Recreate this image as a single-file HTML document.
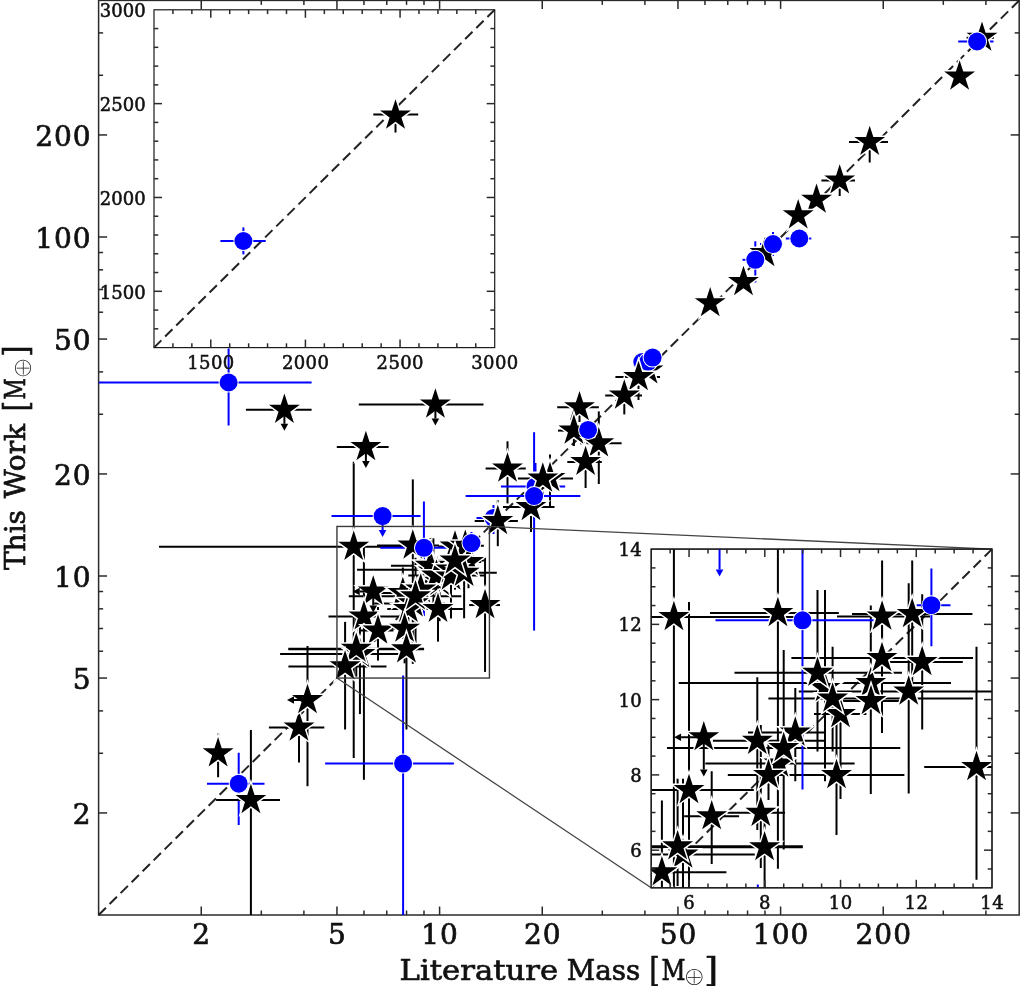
<!DOCTYPE html>
<html><head><meta charset="utf-8"><style>
html,body{margin:0;padding:0;background:#fff;}
svg{display:block;}
.tl{font-family:"DejaVu Serif","Liberation Serif",serif;fill:#111;stroke:#111;stroke-width:0.7px;}
.ts{stroke-width:0.55px;}
.op{font-family:"Liberation Sans","NanumGothic",sans-serif;fill:#111;}
.st{fill:#000;stroke:#fff;stroke-width:3;paint-order:stroke;stroke-linejoin:miter;}
.ci{fill:#00f;stroke:#fff;stroke-width:2;paint-order:stroke;}
</style></head><body>
<svg width="1020" height="986" viewBox="0 0 1020 986">
<rect x="98.6" y="0.4" width="920.6" height="914.6" fill="none" stroke="#2a2a2a" stroke-width="1.5"/>
<line x1="201.25" y1="915" x2="201.25" y2="906.5" stroke="#2a2a2a" stroke-width="1.5" />
<line x1="201.25" y1="0.4" x2="201.25" y2="8.9" stroke="#2a2a2a" stroke-width="1.5" />
<line x1="98.6" y1="812.95" x2="107.1" y2="812.95" stroke="#2a2a2a" stroke-width="1.5" />
<line x1="1019.2" y1="812.95" x2="1010.7" y2="812.95" stroke="#2a2a2a" stroke-width="1.5" />
<line x1="261.3" y1="915" x2="261.3" y2="910.5" stroke="#2a2a2a" stroke-width="1.5" />
<line x1="261.3" y1="0.4" x2="261.3" y2="4.9" stroke="#2a2a2a" stroke-width="1.5" />
<line x1="98.6" y1="753.26" x2="103.1" y2="753.26" stroke="#2a2a2a" stroke-width="1.5" />
<line x1="1019.2" y1="753.26" x2="1014.7" y2="753.26" stroke="#2a2a2a" stroke-width="1.5" />
<line x1="303.9" y1="915" x2="303.9" y2="910.5" stroke="#2a2a2a" stroke-width="1.5" />
<line x1="303.9" y1="0.4" x2="303.9" y2="4.9" stroke="#2a2a2a" stroke-width="1.5" />
<line x1="98.6" y1="710.9" x2="103.1" y2="710.9" stroke="#2a2a2a" stroke-width="1.5" />
<line x1="1019.2" y1="710.9" x2="1014.7" y2="710.9" stroke="#2a2a2a" stroke-width="1.5" />
<line x1="336.95" y1="915" x2="336.95" y2="906.5" stroke="#2a2a2a" stroke-width="1.5" />
<line x1="336.95" y1="0.4" x2="336.95" y2="8.9" stroke="#2a2a2a" stroke-width="1.5" />
<line x1="98.6" y1="678.05" x2="107.1" y2="678.05" stroke="#2a2a2a" stroke-width="1.5" />
<line x1="1019.2" y1="678.05" x2="1010.7" y2="678.05" stroke="#2a2a2a" stroke-width="1.5" />
<line x1="363.95" y1="915" x2="363.95" y2="910.5" stroke="#2a2a2a" stroke-width="1.5" />
<line x1="363.95" y1="0.4" x2="363.95" y2="4.9" stroke="#2a2a2a" stroke-width="1.5" />
<line x1="98.6" y1="651.21" x2="103.1" y2="651.21" stroke="#2a2a2a" stroke-width="1.5" />
<line x1="1019.2" y1="651.21" x2="1014.7" y2="651.21" stroke="#2a2a2a" stroke-width="1.5" />
<line x1="386.78" y1="915" x2="386.78" y2="910.5" stroke="#2a2a2a" stroke-width="1.5" />
<line x1="386.78" y1="0.4" x2="386.78" y2="4.9" stroke="#2a2a2a" stroke-width="1.5" />
<line x1="98.6" y1="628.51" x2="103.1" y2="628.51" stroke="#2a2a2a" stroke-width="1.5" />
<line x1="1019.2" y1="628.51" x2="1014.7" y2="628.51" stroke="#2a2a2a" stroke-width="1.5" />
<line x1="406.55" y1="915" x2="406.55" y2="910.5" stroke="#2a2a2a" stroke-width="1.5" />
<line x1="406.55" y1="0.4" x2="406.55" y2="4.9" stroke="#2a2a2a" stroke-width="1.5" />
<line x1="98.6" y1="608.85" x2="103.1" y2="608.85" stroke="#2a2a2a" stroke-width="1.5" />
<line x1="1019.2" y1="608.85" x2="1014.7" y2="608.85" stroke="#2a2a2a" stroke-width="1.5" />
<line x1="424" y1="915" x2="424" y2="910.5" stroke="#2a2a2a" stroke-width="1.5" />
<line x1="424" y1="0.4" x2="424" y2="4.9" stroke="#2a2a2a" stroke-width="1.5" />
<line x1="98.6" y1="591.51" x2="103.1" y2="591.51" stroke="#2a2a2a" stroke-width="1.5" />
<line x1="1019.2" y1="591.51" x2="1014.7" y2="591.51" stroke="#2a2a2a" stroke-width="1.5" />
<line x1="439.6" y1="915" x2="439.6" y2="906.5" stroke="#2a2a2a" stroke-width="1.5" />
<line x1="439.6" y1="0.4" x2="439.6" y2="8.9" stroke="#2a2a2a" stroke-width="1.5" />
<line x1="98.6" y1="576" x2="107.1" y2="576" stroke="#2a2a2a" stroke-width="1.5" />
<line x1="1019.2" y1="576" x2="1010.7" y2="576" stroke="#2a2a2a" stroke-width="1.5" />
<line x1="542.25" y1="915" x2="542.25" y2="906.5" stroke="#2a2a2a" stroke-width="1.5" />
<line x1="542.25" y1="0.4" x2="542.25" y2="8.9" stroke="#2a2a2a" stroke-width="1.5" />
<line x1="98.6" y1="473.95" x2="107.1" y2="473.95" stroke="#2a2a2a" stroke-width="1.5" />
<line x1="1019.2" y1="473.95" x2="1010.7" y2="473.95" stroke="#2a2a2a" stroke-width="1.5" />
<line x1="602.3" y1="915" x2="602.3" y2="910.5" stroke="#2a2a2a" stroke-width="1.5" />
<line x1="602.3" y1="0.4" x2="602.3" y2="4.9" stroke="#2a2a2a" stroke-width="1.5" />
<line x1="98.6" y1="414.26" x2="103.1" y2="414.26" stroke="#2a2a2a" stroke-width="1.5" />
<line x1="1019.2" y1="414.26" x2="1014.7" y2="414.26" stroke="#2a2a2a" stroke-width="1.5" />
<line x1="644.9" y1="915" x2="644.9" y2="910.5" stroke="#2a2a2a" stroke-width="1.5" />
<line x1="644.9" y1="0.4" x2="644.9" y2="4.9" stroke="#2a2a2a" stroke-width="1.5" />
<line x1="98.6" y1="371.9" x2="103.1" y2="371.9" stroke="#2a2a2a" stroke-width="1.5" />
<line x1="1019.2" y1="371.9" x2="1014.7" y2="371.9" stroke="#2a2a2a" stroke-width="1.5" />
<line x1="677.95" y1="915" x2="677.95" y2="906.5" stroke="#2a2a2a" stroke-width="1.5" />
<line x1="677.95" y1="0.4" x2="677.95" y2="8.9" stroke="#2a2a2a" stroke-width="1.5" />
<line x1="98.6" y1="339.05" x2="107.1" y2="339.05" stroke="#2a2a2a" stroke-width="1.5" />
<line x1="1019.2" y1="339.05" x2="1010.7" y2="339.05" stroke="#2a2a2a" stroke-width="1.5" />
<line x1="704.95" y1="915" x2="704.95" y2="910.5" stroke="#2a2a2a" stroke-width="1.5" />
<line x1="704.95" y1="0.4" x2="704.95" y2="4.9" stroke="#2a2a2a" stroke-width="1.5" />
<line x1="98.6" y1="312.21" x2="103.1" y2="312.21" stroke="#2a2a2a" stroke-width="1.5" />
<line x1="1019.2" y1="312.21" x2="1014.7" y2="312.21" stroke="#2a2a2a" stroke-width="1.5" />
<line x1="727.78" y1="915" x2="727.78" y2="910.5" stroke="#2a2a2a" stroke-width="1.5" />
<line x1="727.78" y1="0.4" x2="727.78" y2="4.9" stroke="#2a2a2a" stroke-width="1.5" />
<line x1="98.6" y1="289.51" x2="103.1" y2="289.51" stroke="#2a2a2a" stroke-width="1.5" />
<line x1="1019.2" y1="289.51" x2="1014.7" y2="289.51" stroke="#2a2a2a" stroke-width="1.5" />
<line x1="747.55" y1="915" x2="747.55" y2="910.5" stroke="#2a2a2a" stroke-width="1.5" />
<line x1="747.55" y1="0.4" x2="747.55" y2="4.9" stroke="#2a2a2a" stroke-width="1.5" />
<line x1="98.6" y1="269.85" x2="103.1" y2="269.85" stroke="#2a2a2a" stroke-width="1.5" />
<line x1="1019.2" y1="269.85" x2="1014.7" y2="269.85" stroke="#2a2a2a" stroke-width="1.5" />
<line x1="765" y1="915" x2="765" y2="910.5" stroke="#2a2a2a" stroke-width="1.5" />
<line x1="765" y1="0.4" x2="765" y2="4.9" stroke="#2a2a2a" stroke-width="1.5" />
<line x1="98.6" y1="252.51" x2="103.1" y2="252.51" stroke="#2a2a2a" stroke-width="1.5" />
<line x1="1019.2" y1="252.51" x2="1014.7" y2="252.51" stroke="#2a2a2a" stroke-width="1.5" />
<line x1="780.6" y1="915" x2="780.6" y2="906.5" stroke="#2a2a2a" stroke-width="1.5" />
<line x1="780.6" y1="0.4" x2="780.6" y2="8.9" stroke="#2a2a2a" stroke-width="1.5" />
<line x1="98.6" y1="237" x2="107.1" y2="237" stroke="#2a2a2a" stroke-width="1.5" />
<line x1="1019.2" y1="237" x2="1010.7" y2="237" stroke="#2a2a2a" stroke-width="1.5" />
<line x1="883.25" y1="915" x2="883.25" y2="906.5" stroke="#2a2a2a" stroke-width="1.5" />
<line x1="883.25" y1="0.4" x2="883.25" y2="8.9" stroke="#2a2a2a" stroke-width="1.5" />
<line x1="98.6" y1="134.95" x2="107.1" y2="134.95" stroke="#2a2a2a" stroke-width="1.5" />
<line x1="1019.2" y1="134.95" x2="1010.7" y2="134.95" stroke="#2a2a2a" stroke-width="1.5" />
<line x1="943.3" y1="915" x2="943.3" y2="910.5" stroke="#2a2a2a" stroke-width="1.5" />
<line x1="943.3" y1="0.4" x2="943.3" y2="4.9" stroke="#2a2a2a" stroke-width="1.5" />
<line x1="98.6" y1="75.26" x2="103.1" y2="75.26" stroke="#2a2a2a" stroke-width="1.5" />
<line x1="1019.2" y1="75.26" x2="1014.7" y2="75.26" stroke="#2a2a2a" stroke-width="1.5" />
<line x1="985.9" y1="915" x2="985.9" y2="910.5" stroke="#2a2a2a" stroke-width="1.5" />
<line x1="985.9" y1="0.4" x2="985.9" y2="4.9" stroke="#2a2a2a" stroke-width="1.5" />
<line x1="98.6" y1="32.9" x2="103.1" y2="32.9" stroke="#2a2a2a" stroke-width="1.5" />
<line x1="1019.2" y1="32.9" x2="1014.7" y2="32.9" stroke="#2a2a2a" stroke-width="1.5" />
<defs><clipPath id="cm"><rect x="98.6" y="0.4" width="920.6" height="914.6"/></clipPath>
<clipPath id="ci2"><rect x="651.2" y="549.1" width="340.8" height="338.7"/></clipPath></defs>
<line x1="98.6" y1="915" x2="1019.2" y2="0.4" stroke="#222" stroke-width="2" stroke-dasharray="10.3 5.21"/>
<g clip-path="url(#cm)">
<line x1="159" y1="546.78" x2="420.18" y2="546.78" stroke="#000" stroke-width="2" />
<line x1="353.72" y1="757.9" x2="353.72" y2="461.8" stroke="#000" stroke-width="2" />
<line x1="377" y1="545.5" x2="438.92" y2="545.5" stroke="#000" stroke-width="2" />
<line x1="412.82" y1="663.89" x2="412.82" y2="479.4" stroke="#000" stroke-width="2" />
<line x1="438.21" y1="546.62" x2="471.01" y2="546.62" stroke="#000" stroke-width="2" />
<line x1="455.02" y1="561.26" x2="455.02" y2="529.68" stroke="#000" stroke-width="2" />
<line x1="444.02" y1="545.82" x2="483.85" y2="545.82" stroke="#000" stroke-width="2" />
<line x1="465.27" y1="576.14" x2="465.27" y2="529.68" stroke="#000" stroke-width="2" />
<line x1="456.64" y1="561.97" x2="481.04" y2="561.97" stroke="#000" stroke-width="2" />
<line x1="468.52" y1="588.22" x2="468.52" y2="539.67" stroke="#000" stroke-width="2" />
<line x1="433.4" y1="611.97" x2="433.4" y2="538.36" stroke="#000" stroke-width="2" />
<line x1="390.95" y1="565.86" x2="461.88" y2="565.86" stroke="#000" stroke-width="2" />
<line x1="430.31" y1="597.88" x2="430.31" y2="538.36" stroke="#000" stroke-width="2" />
<line x1="428.84" y1="581.73" x2="449.39" y2="581.73" stroke="#000" stroke-width="2" />
<line x1="439.59" y1="621.14" x2="439.59" y2="578.11" stroke="#000" stroke-width="2" />
<line x1="408.3" y1="575.56" x2="484.02" y2="575.56" stroke="#000" stroke-width="2" />
<line x1="436.46" y1="597.88" x2="436.46" y2="556.66" stroke="#000" stroke-width="2" />
<line x1="357.03" y1="569.63" x2="477.51" y2="569.63" stroke="#000" stroke-width="2" />
<line x1="450.99" y1="618.45" x2="450.99" y2="543.16" stroke="#000" stroke-width="2" />
<line x1="439.39" y1="576.54" x2="462.88" y2="576.54" stroke="#000" stroke-width="2" />
<line x1="422.31" y1="572.85" x2="496.8" y2="572.85" stroke="#000" stroke-width="2" />
<line x1="464.11" y1="618.29" x2="464.11" y2="536.34" stroke="#000" stroke-width="2" />
<line x1="378.72" y1="593.06" x2="433.76" y2="593.06" stroke="#000" stroke-width="2" />
<line x1="402.84" y1="638.61" x2="402.84" y2="567.48" stroke="#000" stroke-width="2" />
<line x1="398.1" y1="589.45" x2="433.15" y2="589.45" stroke="#000" stroke-width="2" />
<line x1="420.76" y1="611.97" x2="420.76" y2="571.48" stroke="#000" stroke-width="2" />
<line x1="374.17" y1="603.38" x2="445" y2="603.38" stroke="#000" stroke-width="2" />
<line x1="387.26" y1="608.9" x2="462.41" y2="608.9" stroke="#000" stroke-width="2" />
<line x1="408.35" y1="621.67" x2="408.35" y2="592.7" stroke="#000" stroke-width="2" />
<line x1="348.82" y1="596.25" x2="461.3" y2="596.25" stroke="#000" stroke-width="2" />
<line x1="415.52" y1="650.71" x2="415.52" y2="557.76" stroke="#000" stroke-width="2" />
<line x1="418.39" y1="608.9" x2="462.68" y2="608.9" stroke="#000" stroke-width="2" />
<line x1="438.01" y1="641.64" x2="438.01" y2="584.19" stroke="#000" stroke-width="2" />
<line x1="469.16" y1="605.04" x2="500" y2="605.04" stroke="#000" stroke-width="2" />
<line x1="485.04" y1="671.92" x2="485.04" y2="556.66" stroke="#000" stroke-width="2" />
<line x1="328.5" y1="616.43" x2="401.08" y2="616.43" stroke="#000" stroke-width="2" />
<line x1="363.91" y1="779.8" x2="363.91" y2="542.04" stroke="#000" stroke-width="2" />
<line x1="360.74" y1="630.58" x2="393.42" y2="630.58" stroke="#000" stroke-width="2" />
<line x1="378.01" y1="660.58" x2="378.01" y2="607.05" stroke="#000" stroke-width="2" />
<line x1="387.04" y1="628.66" x2="416.11" y2="628.66" stroke="#000" stroke-width="2" />
<line x1="404.59" y1="663.32" x2="404.59" y2="586.27" stroke="#000" stroke-width="2" />
<line x1="280.1" y1="654.06" x2="401.58" y2="654.06" stroke="#000" stroke-width="2" />
<line x1="359.94" y1="714.1" x2="359.94" y2="610.77" stroke="#000" stroke-width="2" />
<line x1="288.4" y1="648.71" x2="424.05" y2="648.71" stroke="#000" stroke-width="2" />
<line x1="356.28" y1="676.65" x2="356.28" y2="610.77" stroke="#000" stroke-width="2" />
<line x1="288.4" y1="649.29" x2="424.05" y2="649.29" stroke="#000" stroke-width="2" />
<line x1="406.46" y1="729.5" x2="406.46" y2="628.21" stroke="#000" stroke-width="2" />
<line x1="288.4" y1="666.4" x2="386.48" y2="666.4" stroke="#000" stroke-width="2" />
<line x1="345.09" y1="729.5" x2="345.09" y2="621.88" stroke="#000" stroke-width="2" />
<line x1="419.02" y1="560.55" x2="484.02" y2="560.55" stroke="#000" stroke-width="2" />
<line x1="454.99" y1="589.67" x2="454.99" y2="541.42" stroke="#000" stroke-width="2" />
<line x1="380.25" y1="547.84" x2="451.96" y2="547.84" stroke="#00f" stroke-width="2" />
<line x1="423.92" y1="616.12" x2="423.92" y2="501.5" stroke="#00f" stroke-width="2" />
<line x1="466.74" y1="543.04" x2="477.36" y2="543.04" stroke="#00f" stroke-width="2" />
<line x1="471.45" y1="556.49" x2="471.45" y2="531.96" stroke="#00f" stroke-width="2" />
<line x1="966.6" y1="37.7" x2="994" y2="37.7" stroke="#000" stroke-width="2" />
<line x1="958.2" y1="41.5" x2="993.5" y2="41.5" stroke="#00f" stroke-width="2" />
<line x1="849" y1="141.9" x2="888" y2="141.9" stroke="#000" stroke-width="2" />
<line x1="869.7" y1="162.5" x2="869.7" y2="128" stroke="#000" stroke-width="2" />
<line x1="821.4" y1="180.4" x2="855" y2="180.4" stroke="#000" stroke-width="2" />
<line x1="839.7" y1="196" x2="839.7" y2="168" stroke="#000" stroke-width="2" />
<line x1="785.8" y1="238.5" x2="811.3" y2="238.5" stroke="#00f" stroke-width="2" />
<line x1="760" y1="244.1" x2="783" y2="244.1" stroke="#00f" stroke-width="2" />
<line x1="773" y1="256" x2="773" y2="232" stroke="#00f" stroke-width="2" />
<line x1="742.5" y1="259.8" x2="768" y2="259.8" stroke="#00f" stroke-width="2" />
<line x1="755.3" y1="282.5" x2="755.3" y2="241.3" stroke="#00f" stroke-width="2" />
<line x1="615.4" y1="377" x2="660" y2="377" stroke="#000" stroke-width="2" />
<line x1="638.5" y1="400" x2="638.5" y2="362" stroke="#000" stroke-width="2" />
<line x1="605.2" y1="395.6" x2="642" y2="395.6" stroke="#000" stroke-width="2" />
<line x1="624.3" y1="414.4" x2="624.3" y2="380" stroke="#000" stroke-width="2" />
<line x1="557.2" y1="407.2" x2="598.8" y2="407.2" stroke="#000" stroke-width="2" />
<line x1="579.5" y1="422" x2="579.5" y2="392" stroke="#000" stroke-width="2" />
<line x1="558" y1="430.6" x2="590" y2="430.6" stroke="#000" stroke-width="2" />
<line x1="573.9" y1="446" x2="573.9" y2="415" stroke="#000" stroke-width="2" />
<line x1="580" y1="443.3" x2="621.6" y2="443.3" stroke="#000" stroke-width="2" />
<line x1="598.8" y1="484" x2="598.8" y2="411.4" stroke="#000" stroke-width="2" />
<line x1="567.3" y1="461.9" x2="601.8" y2="461.9" stroke="#000" stroke-width="2" />
<line x1="585.6" y1="488" x2="585.6" y2="446" stroke="#000" stroke-width="2" />
<line x1="485.6" y1="468.5" x2="525.8" y2="468.5" stroke="#000" stroke-width="2" />
<line x1="507.5" y1="503.4" x2="507.5" y2="441.3" stroke="#000" stroke-width="2" />
<line x1="500.9" y1="486.4" x2="565.2" y2="486.4" stroke="#00f" stroke-width="2" />
<line x1="535.5" y1="505" x2="535.5" y2="463" stroke="#00f" stroke-width="2" />
<line x1="550" y1="507" x2="550" y2="454.5" stroke="#000" stroke-width="2" />
<line x1="517.9" y1="478.5" x2="573" y2="478.5" stroke="#000" stroke-width="2" />
<line x1="542.8" y1="496" x2="542.8" y2="465" stroke="#000" stroke-width="2" />
<line x1="503" y1="507" x2="554.5" y2="507" stroke="#000" stroke-width="2" />
<line x1="531" y1="532" x2="531" y2="495" stroke="#000" stroke-width="2" />
<line x1="476.5" y1="518" x2="512" y2="518" stroke="#00f" stroke-width="2" />
<line x1="493.5" y1="534" x2="493.5" y2="505" stroke="#00f" stroke-width="2" />
<line x1="474.7" y1="521" x2="517.9" y2="521" stroke="#000" stroke-width="2" />
<line x1="497.8" y1="546.2" x2="497.8" y2="500.3" stroke="#000" stroke-width="2" />
<line x1="465.6" y1="496.1" x2="580.4" y2="496.1" stroke="#00f" stroke-width="2" />
<line x1="534.1" y1="630.6" x2="534.1" y2="432.2" stroke="#00f" stroke-width="2" />
<line x1="98.6" y1="382.5" x2="311.6" y2="382.5" stroke="#00f" stroke-width="2" />
<line x1="228.6" y1="425.6" x2="228.6" y2="348.4" stroke="#00f" stroke-width="2" />
<line x1="245.9" y1="409.8" x2="311.6" y2="409.8" stroke="#000" stroke-width="2" />
<line x1="358.8" y1="404.6" x2="483.5" y2="404.6" stroke="#000" stroke-width="2" />
<line x1="336.8" y1="447" x2="388.6" y2="447" stroke="#000" stroke-width="2" />
<line x1="331.5" y1="516.1" x2="420.6" y2="516.1" stroke="#00f" stroke-width="2" />
<line x1="268.9" y1="727.5" x2="324.3" y2="727.5" stroke="#000" stroke-width="2" />
<line x1="299" y1="762.6" x2="299" y2="712" stroke="#000" stroke-width="2" />
<line x1="307.5" y1="786.2" x2="307.5" y2="646" stroke="#000" stroke-width="2" />
<line x1="325.1" y1="763.6" x2="453.9" y2="763.6" stroke="#00f" stroke-width="2" />
<line x1="403.1" y1="915" x2="403.1" y2="675.5" stroke="#00f" stroke-width="2" />
<line x1="218.1" y1="777.2" x2="218.1" y2="733.4" stroke="#000" stroke-width="2" />
<line x1="207" y1="783.7" x2="264.5" y2="783.7" stroke="#00f" stroke-width="2" />
<line x1="238.7" y1="824.9" x2="238.7" y2="752.8" stroke="#00f" stroke-width="2" />
<line x1="216.1" y1="800" x2="280" y2="800" stroke="#000" stroke-width="2" />
<line x1="250.9" y1="915" x2="250.9" y2="730.1" stroke="#000" stroke-width="2" />
<path d="M353.72,530.53 L357.37,541.75 L369.17,541.75 L359.62,548.69 L363.27,559.92 L353.72,552.98 L344.17,559.92 L347.81,548.69 L338.26,541.75 L350.07,541.75Z" class="st"/>
<path d="M412.82,529.25 L416.47,540.48 L428.28,540.48 L418.73,547.42 L422.37,558.64 L412.82,551.71 L403.27,558.64 L406.92,547.42 L397.37,540.48 L409.17,540.48Z" class="st"/>
<path d="M455.02,530.37 L458.67,541.59 L470.48,541.59 L460.93,548.53 L464.58,559.76 L455.02,552.82 L445.47,559.76 L449.12,548.53 L439.57,541.59 L451.38,541.59Z" class="st"/>
<path d="M465.27,529.57 L468.92,540.79 L480.72,540.79 L471.17,547.73 L474.82,558.96 L465.27,552.02 L455.72,558.96 L459.37,547.73 L449.81,540.79 L461.62,540.79Z" class="st"/>
<path d="M468.52,545.72 L472.17,556.95 L483.98,556.95 L474.43,563.89 L478.07,575.11 L468.52,568.18 L458.97,575.11 L462.62,563.89 L453.07,556.95 L464.87,556.95Z" class="st"/>
<path d="M433.4,555.27 L437.05,566.5 L448.85,566.5 L439.3,573.44 L442.95,584.66 L433.4,577.73 L423.85,584.66 L427.49,573.44 L417.94,566.5 L429.75,566.5Z" class="st"/>
<path d="M430.31,549.61 L433.95,560.84 L445.76,560.84 L436.21,567.78 L439.86,579.01 L430.31,572.07 L420.75,579.01 L424.4,567.78 L414.85,560.84 L426.66,560.84Z" class="st"/>
<path d="M439.59,565.48 L443.24,576.71 L455.04,576.71 L445.49,583.65 L449.14,594.88 L439.59,587.94 L430.04,594.88 L433.68,583.65 L424.13,576.71 L435.94,576.71Z" class="st"/>
<path d="M436.46,559.31 L440.11,570.54 L451.92,570.54 L442.37,577.48 L446.02,588.7 L436.46,581.76 L426.91,588.7 L430.56,577.48 L421.01,570.54 L432.82,570.54Z" class="st"/>
<path d="M450.99,553.38 L454.64,564.61 L466.44,564.61 L456.89,571.55 L460.54,582.78 L450.99,575.84 L441.44,582.78 L445.08,571.55 L435.53,564.61 L447.34,564.61Z" class="st"/>
<path d="M451.06,560.29 L454.71,571.51 L466.51,571.51 L456.96,578.45 L460.61,589.68 L451.06,582.74 L441.51,589.68 L445.16,578.45 L435.61,571.51 L447.41,571.51Z" class="st"/>
<path d="M464.11,556.6 L467.76,567.83 L479.57,567.83 L470.02,574.77 L473.67,586 L464.11,579.06 L454.56,586 L458.21,574.77 L448.66,567.83 L460.47,567.83Z" class="st"/>
<path d="M373.25,575.23 L376.9,586.46 L388.71,586.46 L379.16,593.4 L382.81,604.63 L373.25,597.69 L363.7,604.63 L367.35,593.4 L357.8,586.46 L369.61,586.46Z" class="st"/>
<path d="M402.84,576.81 L406.49,588.03 L418.3,588.03 L408.74,594.97 L412.39,606.2 L402.84,599.26 L393.29,606.2 L396.94,594.97 L387.39,588.03 L399.19,588.03Z" class="st"/>
<path d="M420.76,573.2 L424.41,584.43 L436.22,584.43 L426.66,591.37 L430.31,602.6 L420.76,595.66 L411.21,602.6 L414.86,591.37 L405.31,584.43 L417.11,584.43Z" class="st"/>
<path d="M413.34,587.13 L416.99,598.36 L428.79,598.36 L419.24,605.3 L422.89,616.53 L413.34,609.59 L403.79,616.53 L407.43,605.3 L397.88,598.36 L409.69,598.36Z" class="st"/>
<path d="M408.35,592.65 L412,603.88 L423.81,603.88 L414.26,610.82 L417.9,622.05 L408.35,615.11 L398.8,622.05 L402.45,610.82 L392.9,603.88 L404.7,603.88Z" class="st"/>
<path d="M415.52,580 L419.17,591.23 L430.97,591.23 L421.42,598.17 L425.07,609.4 L415.52,602.46 L405.97,609.4 L409.61,598.17 L400.06,591.23 L411.87,591.23Z" class="st"/>
<path d="M438.01,592.65 L441.66,603.88 L453.47,603.88 L443.92,610.82 L447.57,622.05 L438.01,615.11 L428.46,622.05 L432.11,610.82 L422.56,603.88 L434.37,603.88Z" class="st"/>
<path d="M485.04,588.79 L488.68,600.02 L500.49,600.02 L490.94,606.96 L494.59,618.19 L485.04,611.25 L475.48,618.19 L479.13,606.96 L469.58,600.02 L481.39,600.02Z" class="st"/>
<path d="M363.91,600.18 L367.55,611.41 L379.36,611.41 L369.81,618.35 L373.46,629.57 L363.91,622.64 L354.35,629.57 L358,618.35 L348.45,611.41 L360.26,611.41Z" class="st"/>
<path d="M378.01,614.33 L381.66,625.55 L393.47,625.55 L383.92,632.49 L387.56,643.72 L378.01,636.78 L368.46,643.72 L372.11,632.49 L362.56,625.55 L374.36,625.55Z" class="st"/>
<path d="M404.59,612.41 L408.23,623.64 L420.04,623.64 L410.49,630.58 L414.14,641.81 L404.59,634.87 L395.03,641.81 L398.68,630.58 L389.13,623.64 L400.94,623.64Z" class="st"/>
<path d="M359.94,637.81 L363.59,649.04 L375.4,649.04 L365.85,655.98 L369.49,667.21 L359.94,660.27 L350.39,667.21 L354.04,655.98 L344.49,649.04 L356.29,649.04Z" class="st"/>
<path d="M356.28,632.46 L359.93,643.68 L371.73,643.69 L362.18,650.63 L365.83,661.85 L356.28,654.91 L346.73,661.85 L350.38,650.63 L340.83,643.69 L352.63,643.68Z" class="st"/>
<path d="M406.46,633.04 L410.1,644.26 L421.91,644.26 L412.36,651.2 L416.01,662.43 L406.46,655.49 L396.9,662.43 L400.55,651.2 L391,644.26 L402.81,644.26Z" class="st"/>
<path d="M345.09,650.15 L348.74,661.37 L360.54,661.37 L350.99,668.31 L354.64,679.54 L345.09,672.6 L335.54,679.54 L339.19,668.31 L329.64,661.37 L341.44,661.37Z" class="st"/>
<path d="M454.99,544.3 L458.64,555.53 L470.44,555.53 L460.89,562.47 L464.54,573.7 L454.99,566.76 L445.44,573.7 L449.09,562.47 L439.53,555.53 L451.34,555.53Z" class="st"/>
<circle cx="423.92" cy="547.84" r="9" class="ci"/>
<circle cx="471.45" cy="543.04" r="9" class="ci"/>
<path d="M982,21.45 L985.65,32.68 L997.45,32.68 L987.9,39.62 L991.55,50.85 L982,43.91 L972.45,50.85 L976.1,39.62 L966.55,32.68 L978.35,32.68Z" class="st"/>
<circle cx="977.1" cy="41.5" r="9" class="ci"/>
<path d="M959.6,60.25 L963.25,71.48 L975.05,71.48 L965.5,78.42 L969.15,89.65 L959.6,82.71 L950.05,89.65 L953.7,78.42 L944.15,71.48 L955.95,71.48Z" class="st"/>
<path d="M869.7,125.65 L873.35,136.88 L885.15,136.88 L875.6,143.82 L879.25,155.05 L869.7,148.11 L860.15,155.05 L863.8,143.82 L854.25,136.88 L866.05,136.88Z" class="st"/>
<path d="M839.7,164.15 L843.35,175.38 L855.15,175.38 L845.6,182.32 L849.25,193.55 L839.7,186.61 L830.15,193.55 L833.8,182.32 L824.25,175.38 L836.05,175.38Z" class="st"/>
<path d="M816.5,183.45 L820.15,194.68 L831.95,194.68 L822.4,201.62 L826.05,212.85 L816.5,205.91 L806.95,212.85 L810.6,201.62 L801.05,194.68 L812.85,194.68Z" class="st"/>
<path d="M798.2,199.05 L801.85,210.28 L813.65,210.28 L804.1,217.22 L807.75,228.45 L798.2,221.51 L788.65,228.45 L792.3,217.22 L782.75,210.28 L794.55,210.28Z" class="st"/>
<circle cx="799.3" cy="238.5" r="9" class="ci"/>
<path d="M765,236.75 L768.65,247.98 L780.45,247.98 L770.9,254.92 L774.55,266.15 L765,259.21 L755.45,266.15 L759.1,254.92 L749.55,247.98 L761.35,247.98Z" class="st"/>
<circle cx="773" cy="244.1" r="9" class="ci"/>
<circle cx="755.3" cy="259.8" r="9" class="ci"/>
<path d="M743.5,265.75 L747.15,276.98 L758.95,276.98 L749.4,283.92 L753.05,295.15 L743.5,288.21 L733.95,295.15 L737.6,283.92 L728.05,276.98 L739.85,276.98Z" class="st"/>
<path d="M710.2,286.95 L713.85,298.18 L725.65,298.18 L716.1,305.12 L719.75,316.35 L710.2,309.41 L700.65,316.35 L704.3,305.12 L694.75,298.18 L706.55,298.18Z" class="st"/>
<path d="M648,354.15 L651.65,365.38 L663.45,365.38 L653.9,372.32 L657.55,383.55 L648,376.61 L638.45,383.55 L642.1,372.32 L632.55,365.38 L644.35,365.38Z" class="st"/>
<circle cx="642.3" cy="362" r="9" class="ci"/>
<circle cx="648" cy="362" r="9" class="ci"/>
<path d="M638.5,360.75 L642.15,371.98 L653.95,371.98 L644.4,378.92 L648.05,390.15 L638.5,383.21 L628.95,390.15 L632.6,378.92 L623.05,371.98 L634.85,371.98Z" class="st"/>
<path d="M624.3,379.35 L627.95,390.58 L639.75,390.58 L630.2,397.52 L633.85,408.75 L624.3,401.81 L614.75,408.75 L618.4,397.52 L608.85,390.58 L620.65,390.58Z" class="st"/>
<circle cx="652.6" cy="357.6" r="9" class="ci"/>
<path d="M579.5,390.95 L583.15,402.18 L594.95,402.18 L585.4,409.12 L589.05,420.35 L579.5,413.41 L569.95,420.35 L573.6,409.12 L564.05,402.18 L575.85,402.18Z" class="st"/>
<path d="M573.9,414.35 L577.55,425.58 L589.35,425.58 L579.8,432.52 L583.45,443.75 L573.9,436.81 L564.35,443.75 L568,432.52 L558.45,425.58 L570.25,425.58Z" class="st"/>
<path d="M598.8,427.05 L602.45,438.28 L614.25,438.28 L604.7,445.22 L608.35,456.45 L598.8,449.51 L589.25,456.45 L592.9,445.22 L583.35,438.28 L595.15,438.28Z" class="st"/>
<circle cx="588.1" cy="429.9" r="9" class="ci"/>
<path d="M585.6,445.65 L589.25,456.88 L601.05,456.88 L591.5,463.82 L595.15,475.05 L585.6,468.11 L576.05,475.05 L579.7,463.82 L570.15,456.88 L581.95,456.88Z" class="st"/>
<path d="M507.5,452.25 L511.15,463.48 L522.95,463.48 L513.4,470.42 L517.05,481.65 L507.5,474.71 L497.95,481.65 L501.6,470.42 L492.05,463.48 L503.85,463.48Z" class="st"/>
<circle cx="535.5" cy="486.4" r="9" class="ci"/>
<path d="M550,461.75 L553.65,472.98 L565.45,472.98 L555.9,479.92 L559.55,491.15 L550,484.21 L540.45,491.15 L544.1,479.92 L534.55,472.98 L546.35,472.98Z" class="st"/>
<path d="M542.8,462.25 L546.45,473.48 L558.25,473.48 L548.7,480.42 L552.35,491.65 L542.8,484.71 L533.25,491.65 L536.9,480.42 L527.35,473.48 L539.15,473.48Z" class="st"/>
<path d="M531,490.75 L534.65,501.98 L546.45,501.98 L536.9,508.92 L540.55,520.15 L531,513.21 L521.45,520.15 L525.1,508.92 L515.55,501.98 L527.35,501.98Z" class="st"/>
<circle cx="493.5" cy="518" r="9" class="ci"/>
<path d="M497.8,504.75 L501.45,515.98 L513.25,515.98 L503.7,522.92 L507.35,534.15 L497.8,527.21 L488.25,534.15 L491.9,522.92 L482.35,515.98 L494.15,515.98Z" class="st"/>
<circle cx="534.1" cy="496.1" r="9" class="ci"/>
<circle cx="228.6" cy="382.5" r="9" class="ci"/>
<path d="M284.4,393.55 L288.05,404.78 L299.85,404.78 L290.3,411.72 L293.95,422.95 L284.4,416.01 L274.85,422.95 L278.5,411.72 L268.95,404.78 L280.75,404.78Z" class="st"/>
<path d="M435.4,388.35 L439.05,399.58 L450.85,399.58 L441.3,406.52 L444.95,417.75 L435.4,410.81 L425.85,417.75 L429.5,406.52 L419.95,399.58 L431.75,399.58Z" class="st"/>
<path d="M365.9,430.75 L369.55,441.98 L381.35,441.98 L371.8,448.92 L375.45,460.15 L365.9,453.21 L356.35,460.15 L360,448.92 L350.45,441.98 L362.25,441.98Z" class="st"/>
<circle cx="382.6" cy="516.1" r="9" class="ci"/>
<path d="M299,711.25 L302.65,722.48 L314.45,722.48 L304.9,729.42 L308.55,740.65 L299,733.71 L289.45,740.65 L293.1,729.42 L283.55,722.48 L295.35,722.48Z" class="st"/>
<path d="M307.5,683.75 L311.15,694.98 L322.95,694.98 L313.4,701.92 L317.05,713.15 L307.5,706.21 L297.95,713.15 L301.6,701.92 L292.05,694.98 L303.85,694.98Z" class="st"/>
<circle cx="403.1" cy="763.6" r="9" class="ci"/>
<path d="M218.1,737.05 L221.75,748.28 L233.55,748.28 L224,755.22 L227.65,766.45 L218.1,759.51 L208.55,766.45 L212.2,755.22 L202.65,748.28 L214.45,748.28Z" class="st"/>
<circle cx="238.7" cy="783.7" r="9" class="ci"/>
<path d="M250.9,783.75 L254.55,794.98 L266.35,794.98 L256.8,801.92 L260.45,813.15 L250.9,806.21 L241.35,813.15 L245,801.92 L235.45,794.98 L247.25,794.98Z" class="st"/>
<line x1="373.25" y1="591.48" x2="373.25" y2="605.48" stroke="#000" stroke-width="2" />
<path d="M373.25,612.48 L369.45,605.48 L377.05,605.48Z" fill="#000"/>
<line x1="373.25" y1="591.48" x2="359.75" y2="591.48" stroke="#000" stroke-width="2" />
<path d="M352.75,591.48 L359.75,587.68 L359.75,595.28Z" fill="#000"/>
<line x1="284.4" y1="409.8" x2="284.4" y2="423.8" stroke="#000" stroke-width="2" />
<path d="M284.4,430.8 L280.6,423.8 L288.2,423.8Z" fill="#000"/>
<line x1="435.4" y1="404.6" x2="435.4" y2="418.6" stroke="#000" stroke-width="2" />
<path d="M435.4,425.6 L431.6,418.6 L439.2,418.6Z" fill="#000"/>
<line x1="365.9" y1="447" x2="365.9" y2="461" stroke="#000" stroke-width="2" />
<path d="M365.9,468 L362.1,461 L369.7,461Z" fill="#000"/>
<line x1="382.6" y1="516.1" x2="382.6" y2="530.1" stroke="#00f" stroke-width="2" />
<path d="M382.6,537.1 L378.8,530.1 L386.4,530.1Z" fill="#00f"/>
<line x1="307.5" y1="700" x2="294" y2="700" stroke="#000" stroke-width="2" />
<path d="M287,700 L294,696.2 L294,703.8Z" fill="#000"/>
</g>
<rect x="336.95" y="526.46" width="152.48" height="151.59" fill="none" stroke="#3a3a3a" stroke-width="1.4"/>
<line x1="489.43" y1="526.46" x2="992" y2="549.1" stroke="#444" stroke-width="1.3" />
<line x1="336.95" y1="678.05" x2="651.2" y2="887.8" stroke="#444" stroke-width="1.3" />
<rect x="154.0" y="9.8" width="340.7" height="337.8" fill="white" stroke="#1a1a1a" stroke-width="1.2"/>
<line x1="172.93" y1="347.6" x2="172.93" y2="343.3" stroke="#2a2a2a" stroke-width="1.5" />
<line x1="172.93" y1="9.8" x2="172.93" y2="14.1" stroke="#2a2a2a" stroke-width="1.5" />
<line x1="154" y1="328.83" x2="158.3" y2="328.83" stroke="#2a2a2a" stroke-width="1.5" />
<line x1="494.7" y1="328.83" x2="490.4" y2="328.83" stroke="#2a2a2a" stroke-width="1.5" />
<line x1="191.86" y1="347.6" x2="191.86" y2="343.3" stroke="#2a2a2a" stroke-width="1.5" />
<line x1="191.86" y1="9.8" x2="191.86" y2="14.1" stroke="#2a2a2a" stroke-width="1.5" />
<line x1="154" y1="310.07" x2="158.3" y2="310.07" stroke="#2a2a2a" stroke-width="1.5" />
<line x1="494.7" y1="310.07" x2="490.4" y2="310.07" stroke="#2a2a2a" stroke-width="1.5" />
<line x1="210.78" y1="347.6" x2="210.78" y2="339.6" stroke="#2a2a2a" stroke-width="1.5" />
<line x1="210.78" y1="9.8" x2="210.78" y2="17.8" stroke="#2a2a2a" stroke-width="1.5" />
<line x1="154" y1="291.3" x2="162" y2="291.3" stroke="#2a2a2a" stroke-width="1.5" />
<line x1="494.7" y1="291.3" x2="486.7" y2="291.3" stroke="#2a2a2a" stroke-width="1.5" />
<line x1="229.71" y1="347.6" x2="229.71" y2="343.3" stroke="#2a2a2a" stroke-width="1.5" />
<line x1="229.71" y1="9.8" x2="229.71" y2="14.1" stroke="#2a2a2a" stroke-width="1.5" />
<line x1="154" y1="272.53" x2="158.3" y2="272.53" stroke="#2a2a2a" stroke-width="1.5" />
<line x1="494.7" y1="272.53" x2="490.4" y2="272.53" stroke="#2a2a2a" stroke-width="1.5" />
<line x1="248.64" y1="347.6" x2="248.64" y2="343.3" stroke="#2a2a2a" stroke-width="1.5" />
<line x1="248.64" y1="9.8" x2="248.64" y2="14.1" stroke="#2a2a2a" stroke-width="1.5" />
<line x1="154" y1="253.77" x2="158.3" y2="253.77" stroke="#2a2a2a" stroke-width="1.5" />
<line x1="494.7" y1="253.77" x2="490.4" y2="253.77" stroke="#2a2a2a" stroke-width="1.5" />
<line x1="267.57" y1="347.6" x2="267.57" y2="343.3" stroke="#2a2a2a" stroke-width="1.5" />
<line x1="267.57" y1="9.8" x2="267.57" y2="14.1" stroke="#2a2a2a" stroke-width="1.5" />
<line x1="154" y1="235" x2="158.3" y2="235" stroke="#2a2a2a" stroke-width="1.5" />
<line x1="494.7" y1="235" x2="490.4" y2="235" stroke="#2a2a2a" stroke-width="1.5" />
<line x1="286.49" y1="347.6" x2="286.49" y2="343.3" stroke="#2a2a2a" stroke-width="1.5" />
<line x1="286.49" y1="9.8" x2="286.49" y2="14.1" stroke="#2a2a2a" stroke-width="1.5" />
<line x1="154" y1="216.23" x2="158.3" y2="216.23" stroke="#2a2a2a" stroke-width="1.5" />
<line x1="494.7" y1="216.23" x2="490.4" y2="216.23" stroke="#2a2a2a" stroke-width="1.5" />
<line x1="305.42" y1="347.6" x2="305.42" y2="339.6" stroke="#2a2a2a" stroke-width="1.5" />
<line x1="305.42" y1="9.8" x2="305.42" y2="17.8" stroke="#2a2a2a" stroke-width="1.5" />
<line x1="154" y1="197.47" x2="162" y2="197.47" stroke="#2a2a2a" stroke-width="1.5" />
<line x1="494.7" y1="197.47" x2="486.7" y2="197.47" stroke="#2a2a2a" stroke-width="1.5" />
<line x1="324.35" y1="347.6" x2="324.35" y2="343.3" stroke="#2a2a2a" stroke-width="1.5" />
<line x1="324.35" y1="9.8" x2="324.35" y2="14.1" stroke="#2a2a2a" stroke-width="1.5" />
<line x1="154" y1="178.7" x2="158.3" y2="178.7" stroke="#2a2a2a" stroke-width="1.5" />
<line x1="494.7" y1="178.7" x2="490.4" y2="178.7" stroke="#2a2a2a" stroke-width="1.5" />
<line x1="343.28" y1="347.6" x2="343.28" y2="343.3" stroke="#2a2a2a" stroke-width="1.5" />
<line x1="343.28" y1="9.8" x2="343.28" y2="14.1" stroke="#2a2a2a" stroke-width="1.5" />
<line x1="154" y1="159.93" x2="158.3" y2="159.93" stroke="#2a2a2a" stroke-width="1.5" />
<line x1="494.7" y1="159.93" x2="490.4" y2="159.93" stroke="#2a2a2a" stroke-width="1.5" />
<line x1="362.21" y1="347.6" x2="362.21" y2="343.3" stroke="#2a2a2a" stroke-width="1.5" />
<line x1="362.21" y1="9.8" x2="362.21" y2="14.1" stroke="#2a2a2a" stroke-width="1.5" />
<line x1="154" y1="141.17" x2="158.3" y2="141.17" stroke="#2a2a2a" stroke-width="1.5" />
<line x1="494.7" y1="141.17" x2="490.4" y2="141.17" stroke="#2a2a2a" stroke-width="1.5" />
<line x1="381.13" y1="347.6" x2="381.13" y2="343.3" stroke="#2a2a2a" stroke-width="1.5" />
<line x1="381.13" y1="9.8" x2="381.13" y2="14.1" stroke="#2a2a2a" stroke-width="1.5" />
<line x1="154" y1="122.4" x2="158.3" y2="122.4" stroke="#2a2a2a" stroke-width="1.5" />
<line x1="494.7" y1="122.4" x2="490.4" y2="122.4" stroke="#2a2a2a" stroke-width="1.5" />
<line x1="400.06" y1="347.6" x2="400.06" y2="339.6" stroke="#2a2a2a" stroke-width="1.5" />
<line x1="400.06" y1="9.8" x2="400.06" y2="17.8" stroke="#2a2a2a" stroke-width="1.5" />
<line x1="154" y1="103.63" x2="162" y2="103.63" stroke="#2a2a2a" stroke-width="1.5" />
<line x1="494.7" y1="103.63" x2="486.7" y2="103.63" stroke="#2a2a2a" stroke-width="1.5" />
<line x1="418.99" y1="347.6" x2="418.99" y2="343.3" stroke="#2a2a2a" stroke-width="1.5" />
<line x1="418.99" y1="9.8" x2="418.99" y2="14.1" stroke="#2a2a2a" stroke-width="1.5" />
<line x1="154" y1="84.87" x2="158.3" y2="84.87" stroke="#2a2a2a" stroke-width="1.5" />
<line x1="494.7" y1="84.87" x2="490.4" y2="84.87" stroke="#2a2a2a" stroke-width="1.5" />
<line x1="437.92" y1="347.6" x2="437.92" y2="343.3" stroke="#2a2a2a" stroke-width="1.5" />
<line x1="437.92" y1="9.8" x2="437.92" y2="14.1" stroke="#2a2a2a" stroke-width="1.5" />
<line x1="154" y1="66.1" x2="158.3" y2="66.1" stroke="#2a2a2a" stroke-width="1.5" />
<line x1="494.7" y1="66.1" x2="490.4" y2="66.1" stroke="#2a2a2a" stroke-width="1.5" />
<line x1="456.84" y1="347.6" x2="456.84" y2="343.3" stroke="#2a2a2a" stroke-width="1.5" />
<line x1="456.84" y1="9.8" x2="456.84" y2="14.1" stroke="#2a2a2a" stroke-width="1.5" />
<line x1="154" y1="47.33" x2="158.3" y2="47.33" stroke="#2a2a2a" stroke-width="1.5" />
<line x1="494.7" y1="47.33" x2="490.4" y2="47.33" stroke="#2a2a2a" stroke-width="1.5" />
<line x1="475.77" y1="347.6" x2="475.77" y2="343.3" stroke="#2a2a2a" stroke-width="1.5" />
<line x1="475.77" y1="9.8" x2="475.77" y2="14.1" stroke="#2a2a2a" stroke-width="1.5" />
<line x1="154" y1="28.57" x2="158.3" y2="28.57" stroke="#2a2a2a" stroke-width="1.5" />
<line x1="494.7" y1="28.57" x2="490.4" y2="28.57" stroke="#2a2a2a" stroke-width="1.5" />
<text x="145.9" y="298.6" font-size="18" text-anchor="end" class="tl ts" letter-spacing="0.1">1500</text>
<text x="210.98" y="368.8" font-size="18" text-anchor="middle" class="tl ts" letter-spacing="0.4">1500</text>
<text x="145.9" y="204.77" font-size="18" text-anchor="end" class="tl ts" letter-spacing="0.1">2000</text>
<text x="305.62" y="368.8" font-size="18" text-anchor="middle" class="tl ts" letter-spacing="0.4">2000</text>
<text x="145.9" y="110.93" font-size="18" text-anchor="end" class="tl ts" letter-spacing="0.1">2500</text>
<text x="400.26" y="368.8" font-size="18" text-anchor="middle" class="tl ts" letter-spacing="0.4">2500</text>
<text x="145.9" y="17.1" font-size="18" text-anchor="end" class="tl ts" letter-spacing="0.1">3000</text>
<text x="494.9" y="368.8" font-size="18" text-anchor="middle" class="tl ts" letter-spacing="0.4">3000</text>
<line x1="154.0" y1="347.6" x2="494.7" y2="9.8" stroke="#222" stroke-width="2" stroke-dasharray="10.3 5.35"/>
<line x1="220.4" y1="241" x2="265.7" y2="241" stroke="#00f" stroke-width="2" />
<line x1="243.4" y1="227.4" x2="243.4" y2="254.4" stroke="#00f" stroke-width="2" />
<line x1="373.3" y1="114.5" x2="418.2" y2="114.5" stroke="#000" stroke-width="2" />
<line x1="395.5" y1="114.5" x2="395.5" y2="132.5" stroke="#000" stroke-width="2" />
<path d="M395.5,99.25 L399.15,110.48 L410.95,110.48 L401.4,117.42 L405.05,128.65 L395.5,121.71 L385.95,128.65 L389.6,117.42 L380.05,110.48 L391.85,110.48Z" class="st"/>
<circle cx="243.4" cy="241" r="9" class="ci"/>
<rect x="651.2" y="549.1" width="340.8" height="338.7" fill="white" stroke="#1a1a1a" stroke-width="1.2"/>
<line x1="651.2" y1="887.8" x2="992.0" y2="549.1" stroke="#222" stroke-width="2" stroke-dasharray="10.3 5.37"/>
<g clip-path="url(#ci2)">
<line x1="518.8" y1="617" x2="794" y2="617" stroke="#000" stroke-width="2" />
<line x1="673.9" y1="966.57" x2="673.9" y2="258.55" stroke="#000" stroke-width="2" />
<line x1="710" y1="613" x2="838.8" y2="613" stroke="#000" stroke-width="2" />
<line x1="777.9" y1="868.8" x2="777.9" y2="350.65" stroke="#000" stroke-width="2" />
<line x1="837" y1="616.5" x2="930" y2="616.5" stroke="#000" stroke-width="2" />
<line x1="882.1" y1="660" x2="882.1" y2="560.5" stroke="#000" stroke-width="2" />
<line x1="852" y1="614" x2="972.4" y2="614" stroke="#000" stroke-width="2" />
<line x1="912.2" y1="700" x2="912.2" y2="560.5" stroke="#000" stroke-width="2" />
<line x1="886.7" y1="662" x2="962.8" y2="662" stroke="#000" stroke-width="2" />
<line x1="922.2" y1="729.6" x2="922.2" y2="594.3" stroke="#000" stroke-width="2" />
<line x1="825" y1="781.2" x2="825" y2="590" stroke="#000" stroke-width="2" />
<line x1="734.5" y1="672.8" x2="902" y2="672.8" stroke="#000" stroke-width="2" />
<line x1="817.5" y1="751.6" x2="817.5" y2="590" stroke="#000" stroke-width="2" />
<line x1="814" y1="714" x2="866.4" y2="714" stroke="#000" stroke-width="2" />
<line x1="840.5" y1="799" x2="840.5" y2="705" stroke="#000" stroke-width="2" />
<line x1="768.4" y1="698.5" x2="973" y2="698.5" stroke="#000" stroke-width="2" />
<line x1="832.6" y1="751.6" x2="832.6" y2="646.8" stroke="#000" stroke-width="2" />
<line x1="678.7" y1="683" x2="951" y2="683" stroke="#000" stroke-width="2" />
<line x1="870.8" y1="793.9" x2="870.8" y2="605.6" stroke="#000" stroke-width="2" />
<line x1="840" y1="701" x2="905" y2="701" stroke="#000" stroke-width="2" />
<line x1="798.8" y1="691.5" x2="1019.05" y2="691.5" stroke="#000" stroke-width="2" />
<line x1="908.7" y1="793.6" x2="908.7" y2="583.3" stroke="#000" stroke-width="2" />
<line x1="712.9" y1="740.8" x2="825.9" y2="740.8" stroke="#000" stroke-width="2" />
<line x1="757.3" y1="830" x2="757.3" y2="677.2" stroke="#000" stroke-width="2" />
<line x1="748" y1="732.5" x2="824.4" y2="732.5" stroke="#000" stroke-width="2" />
<line x1="795.3" y1="781.2" x2="795.3" y2="687.9" stroke="#000" stroke-width="2" />
<line x1="705.3" y1="763.5" x2="854.6" y2="763.5" stroke="#000" stroke-width="2" />
<line x1="727.8" y1="775" x2="903.6" y2="775" stroke="#000" stroke-width="2" />
<line x1="768.5" y1="800" x2="768.5" y2="740" stroke="#000" stroke-width="2" />
<line x1="667" y1="748" x2="900.3" y2="748" stroke="#000" stroke-width="2" />
<line x1="783.7" y1="849.4" x2="783.7" y2="650" stroke="#000" stroke-width="2" />
<line x1="790" y1="775" x2="904.4" y2="775" stroke="#000" stroke-width="2" />
<line x1="836.5" y1="835" x2="836.5" y2="720" stroke="#000" stroke-width="2" />
<line x1="924.2" y1="767" x2="1031.22" y2="767" stroke="#000" stroke-width="2" />
<line x1="976.5" y1="879.8" x2="976.5" y2="646.8" stroke="#000" stroke-width="2" />
<line x1="640.7" y1="790" x2="753.8" y2="790" stroke="#000" stroke-width="2" />
<line x1="689" y1="981.69" x2="689" y2="602" stroke="#000" stroke-width="2" />
<line x1="684.2" y1="816.2" x2="739.1" y2="816.2" stroke="#000" stroke-width="2" />
<line x1="711.7" y1="864.1" x2="711.7" y2="771.2" stroke="#000" stroke-width="2" />
<line x1="727.4" y1="812.8" x2="785" y2="812.8" stroke="#000" stroke-width="2" />
<line x1="760.8" y1="868" x2="760.8" y2="725" stroke="#000" stroke-width="2" />
<line x1="590.84" y1="854.5" x2="754.8" y2="854.5" stroke="#000" stroke-width="2" />
<line x1="683" y1="928.67" x2="683" y2="778.8" stroke="#000" stroke-width="2" />
<line x1="598.28" y1="846.3" x2="802.8" y2="846.3" stroke="#000" stroke-width="2" />
<line x1="677.6" y1="886" x2="677.6" y2="778.8" stroke="#000" stroke-width="2" />
<line x1="598.28" y1="847.2" x2="802.8" y2="847.2" stroke="#000" stroke-width="2" />
<line x1="764.6" y1="943.3" x2="764.6" y2="812" stroke="#000" stroke-width="2" />
<line x1="598.28" y1="872.3" x2="726.4" y2="872.3" stroke="#000" stroke-width="2" />
<line x1="661.9" y1="943.3" x2="661.9" y2="800.4" stroke="#000" stroke-width="2" />
<line x1="791.4" y1="658" x2="973" y2="658" stroke="#000" stroke-width="2" />
<line x1="882" y1="733" x2="882" y2="600" stroke="#000" stroke-width="2" />
<line x1="715.5" y1="620.3" x2="873.5" y2="620.3" stroke="#00f" stroke-width="2" />
<line x1="802.5" y1="789.4" x2="802.5" y2="451.75" stroke="#00f" stroke-width="2" />
<line x1="916.7" y1="605.2" x2="950.5" y2="605.2" stroke="#00f" stroke-width="2" />
<line x1="931.4" y1="646.3" x2="931.4" y2="568.4" stroke="#00f" stroke-width="2" />
<line x1="13757.58" y1="-13494.66" x2="16459.79" y2="-13494.66" stroke="#000" stroke-width="2" />
<line x1="13024.43" y1="-13123.4" x2="16405.87" y2="-13123.4" stroke="#00f" stroke-width="2" />
<line x1="6471.44" y1="-6103.69" x2="8281.98" y2="-6103.69" stroke="#000" stroke-width="2" />
<line x1="7372.97" y1="-5166.22" x2="7372.97" y2="-6814.57" stroke="#000" stroke-width="2" />
<line x1="5449.62" y1="-4451.6" x2="6719.91" y2="-4451.6" stroke="#000" stroke-width="2" />
<line x1="6105.66" y1="-3895.87" x2="6105.66" y2="-4937.33" stroke="#000" stroke-width="2" />
<line x1="4383.86" y1="-2649.22" x2="5120.8" y2="-2649.22" stroke="#00f" stroke-width="2" />
<line x1="3756.8" y1="-2510.19" x2="4310.4" y2="-2510.19" stroke="#00f" stroke-width="2" />
<line x1="4059.11" y1="-2231.73" x2="4059.11" y2="-2817.37" stroke="#00f" stroke-width="2" />
<line x1="3389.57" y1="-2147.45" x2="3939.69" y2="-2147.45" stroke="#00f" stroke-width="2" />
<line x1="3653.87" y1="-1686.86" x2="3653.87" y2="-2579.04" stroke="#00f" stroke-width="2" />
<line x1="1702.95" y1="-378.13" x2="2139.09" y2="-378.13" stroke="#000" stroke-width="2" />
<line x1="1912.45" y1="-167.82" x2="1912.45" y2="-534.09" stroke="#000" stroke-width="2" />
<line x1="1620.34" y1="-205.56" x2="1947.14" y2="-205.56" stroke="#000" stroke-width="2" />
<line x1="1779.82" y1="-51.93" x2="1779.82" y2="-348.8" stroke="#000" stroke-width="2" />
<line x1="1299.64" y1="-108.46" x2="1571.35" y2="-108.46" stroke="#000" stroke-width="2" />
<line x1="1435.78" y1="4.82" x2="1435.78" y2="-237.28" stroke="#000" stroke-width="2" />
<line x1="1304.18" y1="65.59" x2="1507.34" y2="65.59" stroke="#000" stroke-width="2" />
<line x1="1399.64" y1="165.94" x2="1399.64" y2="-47.34" stroke="#000" stroke-width="2" />
<line x1="1439.08" y1="149.1" x2="1756.01" y2="149.1" stroke="#000" stroke-width="2" />
<line x1="1571.35" y1="372.96" x2="1571.35" y2="-75.15" stroke="#000" stroke-width="2" />
<line x1="1358.77" y1="259.1" x2="1594.05" y2="259.1" stroke="#000" stroke-width="2" />
<line x1="1476.73" y1="391.8" x2="1476.73" y2="165.94" stroke="#000" stroke-width="2" />
<line x1="978.47" y1="294.91" x2="1139.58" y2="294.91" stroke="#000" stroke-width="2" />
<line x1="1060.8" y1="459.75" x2="1060.8" y2="136.42" stroke="#000" stroke-width="2" />
<line x1="1034.69" y1="384.33" x2="1346.14" y2="384.33" stroke="#00f" stroke-width="2" />
<line x1="1185.45" y1="466.41" x2="1185.45" y2="265.18" stroke="#00f" stroke-width="2" />
<line x1="1259.88" y1="474.64" x2="1259.88" y2="216.99" stroke="#000" stroke-width="2" />
<line x1="1104.37" y1="346.2" x2="1393.96" y2="346.2" stroke="#000" stroke-width="2" />
<line x1="1222.01" y1="427.99" x2="1222.01" y2="276.12" stroke="#000" stroke-width="2" />
<line x1="1042.87" y1="474.64" x2="1284.5" y2="474.64" stroke="#000" stroke-width="2" />
<line x1="1163.79" y1="568.55" x2="1163.79" y2="423.57" stroke="#000" stroke-width="2" />
<line x1="947.68" y1="517.93" x2="1079.28" y2="517.93" stroke="#00f" stroke-width="2" />
<line x1="1006.77" y1="575.39" x2="1006.77" y2="466.41" stroke="#00f" stroke-width="2" />
<line x1="941.81" y1="529.18" x2="1104.37" y2="529.18" stroke="#000" stroke-width="2" />
<line x1="1022.83" y1="615.2" x2="1022.83" y2="446.64" stroke="#000" stroke-width="2" />
<line x1="913.21" y1="428.43" x2="1441.72" y2="428.43" stroke="#00f" stroke-width="2" />
<line x1="1178.64" y1="816.24" x2="1178.64" y2="76.52" stroke="#00f" stroke-width="2" />
<line x1="499.73" y1="-324.81" x2="621.41" y2="-324.81" stroke="#00f" stroke-width="2" />
<line x1="552.96" y1="30.69" x2="552.96" y2="-689.9" stroke="#00f" stroke-width="2" />
<line x1="564.25" y1="-87.73" x2="621.41" y2="-87.73" stroke="#000" stroke-width="2" />
<line x1="681.3" y1="-129.56" x2="971.19" y2="-129.56" stroke="#000" stroke-width="2" />
<line x1="651.01" y1="172.1" x2="730.21" y2="172.1" stroke="#000" stroke-width="2" />
<line x1="644.36" y1="510.68" x2="794.94" y2="510.68" stroke="#00f" stroke-width="2" />
<line x1="581.45" y1="941.48" x2="635.7" y2="941.48" stroke="#000" stroke-width="2" />
<line x1="608.4" y1="970.01" x2="608.4" y2="926.55" stroke="#000" stroke-width="2" />
<line x1="617.06" y1="985.7" x2="617.06" y2="842.04" stroke="#000" stroke-width="2" />
<line x1="636.64" y1="970.73" x2="878.92" y2="970.73" stroke="#00f" stroke-width="2" />
<line x1="757.82" y1="1038.33" x2="757.82" y2="884.51" stroke="#00f" stroke-width="2" />
<line x1="546.73" y1="980.01" x2="546.73" y2="946.77" stroke="#000" stroke-width="2" />
<line x1="540.6" y1="984.16" x2="577.95" y2="984.16" stroke="#00f" stroke-width="2" />
<line x1="559.39" y1="1006.57" x2="559.39" y2="962.72" stroke="#00f" stroke-width="2" />
<line x1="545.59" y1="993.78" x2="590.76" y2="993.78" stroke="#000" stroke-width="2" />
<line x1="567.76" y1="1038.33" x2="567.76" y2="943.84" stroke="#000" stroke-width="2" />
<path d="M673.9,600.75 L677.55,611.98 L689.35,611.98 L679.8,618.92 L683.45,630.15 L673.9,623.21 L664.35,630.15 L668,618.92 L658.45,611.98 L670.25,611.98Z" class="st"/>
<path d="M777.9,596.75 L781.55,607.98 L793.35,607.98 L783.8,614.92 L787.45,626.15 L777.9,619.21 L768.35,626.15 L772,614.92 L762.45,607.98 L774.25,607.98Z" class="st"/>
<path d="M882.1,600.25 L885.75,611.48 L897.55,611.48 L888,618.42 L891.65,629.65 L882.1,622.71 L872.55,629.65 L876.2,618.42 L866.65,611.48 L878.45,611.48Z" class="st"/>
<path d="M912.2,597.75 L915.85,608.98 L927.65,608.98 L918.1,615.92 L921.75,627.15 L912.2,620.21 L902.65,627.15 L906.3,615.92 L896.75,608.98 L908.55,608.98Z" class="st"/>
<path d="M922.2,645.75 L925.85,656.98 L937.65,656.98 L928.1,663.92 L931.75,675.15 L922.2,668.21 L912.65,675.15 L916.3,663.92 L906.75,656.98 L918.55,656.98Z" class="st"/>
<path d="M825,671.75 L828.65,682.98 L840.45,682.98 L830.9,689.92 L834.55,701.15 L825,694.21 L815.45,701.15 L819.1,689.92 L809.55,682.98 L821.35,682.98Z" class="st"/>
<path d="M817.5,656.55 L821.15,667.78 L832.95,667.78 L823.4,674.72 L827.05,685.95 L817.5,679.01 L807.95,685.95 L811.6,674.72 L802.05,667.78 L813.85,667.78Z" class="st"/>
<path d="M840.5,697.75 L844.15,708.98 L855.95,708.98 L846.4,715.92 L850.05,727.15 L840.5,720.21 L830.95,727.15 L834.6,715.92 L825.05,708.98 L836.85,708.98Z" class="st"/>
<path d="M832.6,682.25 L836.25,693.48 L848.05,693.48 L838.5,700.42 L842.15,711.65 L832.6,704.71 L823.05,711.65 L826.7,700.42 L817.15,693.48 L828.95,693.48Z" class="st"/>
<path d="M870.8,666.75 L874.45,677.98 L886.25,677.98 L876.7,684.92 L880.35,696.15 L870.8,689.21 L861.25,696.15 L864.9,684.92 L855.35,677.98 L867.15,677.98Z" class="st"/>
<path d="M871,684.75 L874.65,695.98 L886.45,695.98 L876.9,702.92 L880.55,714.15 L871,707.21 L861.45,714.15 L865.1,702.92 L855.55,695.98 L867.35,695.98Z" class="st"/>
<path d="M908.7,675.25 L912.35,686.48 L924.15,686.48 L914.6,693.42 L918.25,704.65 L908.7,697.71 L899.15,704.65 L902.8,693.42 L893.25,686.48 L905.05,686.48Z" class="st"/>
<path d="M703.8,720.95 L707.45,732.18 L719.25,732.18 L709.7,739.12 L713.35,750.35 L703.8,743.41 L694.25,750.35 L697.9,739.12 L688.35,732.18 L700.15,732.18Z" class="st"/>
<path d="M757.3,724.55 L760.95,735.78 L772.75,735.78 L763.2,742.72 L766.85,753.95 L757.3,747.01 L747.75,753.95 L751.4,742.72 L741.85,735.78 L753.65,735.78Z" class="st"/>
<path d="M795.3,716.25 L798.95,727.48 L810.75,727.48 L801.2,734.42 L804.85,745.65 L795.3,738.71 L785.75,745.65 L789.4,734.42 L779.85,727.48 L791.65,727.48Z" class="st"/>
<path d="M779,747.25 L782.65,758.48 L794.45,758.48 L784.9,765.42 L788.55,776.65 L779,769.71 L769.45,776.65 L773.1,765.42 L763.55,758.48 L775.35,758.48Z" class="st"/>
<path d="M768.5,758.75 L772.15,769.98 L783.95,769.98 L774.4,776.92 L778.05,788.15 L768.5,781.21 L758.95,788.15 L762.6,776.92 L753.05,769.98 L764.85,769.98Z" class="st"/>
<path d="M783.7,731.75 L787.35,742.98 L799.15,742.98 L789.6,749.92 L793.25,761.15 L783.7,754.21 L774.15,761.15 L777.8,749.92 L768.25,742.98 L780.05,742.98Z" class="st"/>
<path d="M836.5,758.75 L840.15,769.98 L851.95,769.98 L842.4,776.92 L846.05,788.15 L836.5,781.21 L826.95,788.15 L830.6,776.92 L821.05,769.98 L832.85,769.98Z" class="st"/>
<path d="M976.5,750.75 L980.15,761.98 L991.95,761.98 L982.4,768.92 L986.05,780.15 L976.5,773.21 L966.95,780.15 L970.6,768.92 L961.05,761.98 L972.85,761.98Z" class="st"/>
<path d="M689,773.75 L692.65,784.98 L704.45,784.98 L694.9,791.92 L698.55,803.15 L689,796.21 L679.45,803.15 L683.1,791.92 L673.55,784.98 L685.35,784.98Z" class="st"/>
<path d="M711.7,799.95 L715.35,811.18 L727.15,811.18 L717.6,818.12 L721.25,829.35 L711.7,822.41 L702.15,829.35 L705.8,818.12 L696.25,811.18 L708.05,811.18Z" class="st"/>
<path d="M760.8,796.55 L764.45,807.78 L776.25,807.78 L766.7,814.72 L770.35,825.95 L760.8,819.01 L751.25,825.95 L754.9,814.72 L745.35,807.78 L757.15,807.78Z" class="st"/>
<path d="M683,838.25 L686.65,849.48 L698.45,849.48 L688.9,856.42 L692.55,867.65 L683,860.71 L673.45,867.65 L677.1,856.42 L667.55,849.48 L679.35,849.48Z" class="st"/>
<path d="M677.6,830.05 L681.25,841.28 L693.05,841.28 L683.5,848.22 L687.15,859.45 L677.6,852.51 L668.05,859.45 L671.7,848.22 L662.15,841.28 L673.95,841.28Z" class="st"/>
<path d="M764.6,830.95 L768.25,842.18 L780.05,842.18 L770.5,849.12 L774.15,860.35 L764.6,853.41 L755.05,860.35 L758.7,849.12 L749.15,842.18 L760.95,842.18Z" class="st"/>
<path d="M661.9,856.05 L665.55,867.28 L677.35,867.28 L667.8,874.22 L671.45,885.45 L661.9,878.51 L652.35,885.45 L656,874.22 L646.45,867.28 L658.25,867.28Z" class="st"/>
<path d="M882,641.75 L885.65,652.98 L897.45,652.98 L887.9,659.92 L891.55,671.15 L882,664.21 L872.45,671.15 L876.1,659.92 L866.55,652.98 L878.35,652.98Z" class="st"/>
<circle cx="802.5" cy="620.3" r="9" class="ci"/>
<circle cx="931.4" cy="605.2" r="9" class="ci"/>
<path d="M15214.61,-13510.91 L15218.26,-13499.68 L15230.07,-13499.68 L15220.52,-13492.74 L15224.17,-13481.52 L15214.61,-13488.45 L15205.06,-13481.52 L15208.71,-13492.74 L15199.16,-13499.68 L15210.97,-13499.68Z" class="st"/>
<circle cx="14734.48" cy="-13123.4" r="9" class="ci"/>
<path d="M13143.75,-10135.28 L13147.4,-10124.05 L13159.2,-10124.05 L13149.65,-10117.11 L13153.3,-10105.88 L13143.75,-10112.82 L13134.2,-10105.88 L13137.85,-10117.11 L13128.3,-10124.05 L13140.1,-10124.05Z" class="st"/>
<path d="M7372.97,-6119.94 L7376.62,-6108.71 L7388.42,-6108.71 L7378.87,-6101.77 L7382.52,-6090.54 L7372.97,-6097.48 L7363.42,-6090.54 L7367.07,-6101.77 L7357.52,-6108.71 L7369.32,-6108.71Z" class="st"/>
<path d="M6105.66,-4467.85 L6109.31,-4456.63 L6121.11,-4456.63 L6111.56,-4449.69 L6115.21,-4438.46 L6105.66,-4445.4 L6096.11,-4438.46 L6099.75,-4449.69 L6090.2,-4456.63 L6102.01,-4456.63Z" class="st"/>
<path d="M5287.29,-3788.73 L5290.94,-3777.5 L5302.75,-3777.5 L5293.2,-3770.56 L5296.84,-3759.33 L5287.29,-3766.27 L5277.74,-3759.33 L5281.39,-3770.56 L5271.84,-3777.5 L5283.64,-3777.5Z" class="st"/>
<path d="M4726.38,-3301.27 L4730.03,-3290.04 L4741.84,-3290.04 L4732.29,-3283.1 L4735.94,-3271.87 L4726.38,-3278.81 L4716.83,-3271.87 L4720.48,-3283.1 L4710.93,-3290.04 L4722.74,-3290.04Z" class="st"/>
<circle cx="4758.18" cy="-2649.22" r="9" class="ci"/>
<path d="M3869.94,-2316.07 L3873.59,-2304.84 L3885.4,-2304.84 L3875.85,-2297.9 L3879.49,-2286.67 L3869.94,-2293.61 L3860.39,-2286.67 L3864.04,-2297.9 L3854.49,-2304.84 L3866.29,-2304.84Z" class="st"/>
<circle cx="4059.11" cy="-2510.19" r="9" class="ci"/>
<circle cx="3653.87" cy="-2147.45" r="9" class="ci"/>
<path d="M3409.4,-1712.51 L3413.05,-1701.29 L3424.86,-1701.29 L3415.31,-1694.35 L3418.96,-1683.12 L3409.4,-1690.06 L3399.85,-1683.12 L3403.5,-1694.35 L3393.95,-1701.29 L3405.76,-1701.29Z" class="st"/>
<path d="M2815.86,-1340.73 L2819.51,-1329.5 L2831.32,-1329.5 L2821.76,-1322.56 L2825.41,-1311.34 L2815.86,-1318.27 L2806.31,-1311.34 L2809.96,-1322.56 L2800.41,-1329.5 L2812.21,-1329.5Z" class="st"/>
<path d="M2008.55,-461.05 L2012.2,-449.82 L2024,-449.82 L2014.45,-442.88 L2018.1,-431.65 L2008.55,-438.59 L1999,-431.65 L2002.64,-442.88 L1993.09,-449.82 L2004.9,-449.82Z" class="st"/>
<circle cx="1950.15" cy="-534.09" r="9" class="ci"/>
<circle cx="2008.55" cy="-534.09" r="9" class="ci"/>
<path d="M1912.45,-394.38 L1916.09,-383.15 L1927.9,-383.15 L1918.35,-376.21 L1922,-364.98 L1912.45,-371.92 L1902.89,-364.98 L1906.54,-376.21 L1896.99,-383.15 L1908.8,-383.15Z" class="st"/>
<path d="M1779.82,-221.81 L1783.47,-210.58 L1795.27,-210.58 L1785.72,-203.64 L1789.37,-192.41 L1779.82,-199.35 L1770.27,-192.41 L1773.91,-203.64 L1764.36,-210.58 L1776.17,-210.58Z" class="st"/>
<circle cx="2057.34" cy="-582.93" r="9" class="ci"/>
<path d="M1435.78,-124.71 L1439.43,-113.48 L1451.24,-113.48 L1441.69,-106.54 L1445.33,-95.31 L1435.78,-102.25 L1426.23,-95.31 L1429.88,-106.54 L1420.33,-113.48 L1432.13,-113.48Z" class="st"/>
<path d="M1399.64,49.34 L1403.29,60.57 L1415.1,60.57 L1405.55,67.51 L1409.19,78.74 L1399.64,71.8 L1390.09,78.74 L1393.74,67.51 L1384.19,60.57 L1395.99,60.57Z" class="st"/>
<path d="M1571.35,132.85 L1574.99,144.08 L1586.8,144.08 L1577.25,151.02 L1580.9,162.24 L1571.35,155.31 L1561.79,162.24 L1565.44,151.02 L1555.89,144.08 L1567.7,144.08Z" class="st"/>
<circle cx="1494.01" cy="60.78" r="9" class="ci"/>
<path d="M1476.73,242.85 L1480.38,254.08 L1492.19,254.08 L1482.64,261.02 L1486.29,272.25 L1476.73,265.31 L1467.18,272.25 L1470.83,261.02 L1461.28,254.08 L1473.09,254.08Z" class="st"/>
<path d="M1060.8,278.66 L1064.45,289.89 L1076.25,289.89 L1066.7,296.83 L1070.35,308.06 L1060.8,301.12 L1051.25,308.06 L1054.89,296.83 L1045.34,289.89 L1057.15,289.89Z" class="st"/>
<circle cx="1185.45" cy="384.33" r="9" class="ci"/>
<path d="M1259.88,327.47 L1263.53,338.7 L1275.34,338.7 L1265.78,345.64 L1269.43,356.87 L1259.88,349.93 L1250.33,356.87 L1253.98,345.64 L1244.43,338.7 L1256.23,338.7Z" class="st"/>
<path d="M1222.01,329.95 L1225.66,341.18 L1237.47,341.18 L1227.92,348.12 L1231.56,359.35 L1222.01,352.41 L1212.46,359.35 L1216.11,348.12 L1206.56,341.18 L1218.36,341.18Z" class="st"/>
<path d="M1163.79,458.39 L1167.44,469.62 L1179.25,469.62 L1169.7,476.56 L1173.35,487.78 L1163.79,480.84 L1154.24,487.78 L1157.89,476.56 L1148.34,469.62 L1160.15,469.62Z" class="st"/>
<circle cx="1006.77" cy="517.93" r="9" class="ci"/>
<path d="M1022.83,512.93 L1026.47,524.16 L1038.28,524.16 L1028.73,531.1 L1032.38,542.33 L1022.83,535.39 L1013.27,542.33 L1016.92,531.1 L1007.37,524.16 L1019.18,524.16Z" class="st"/>
<circle cx="1178.64" cy="428.43" r="9" class="ci"/>
<circle cx="552.96" cy="-324.81" r="9" class="ci"/>
<path d="M594.64,-103.98 L598.29,-92.75 L610.1,-92.75 L600.55,-85.81 L604.2,-74.58 L594.64,-81.52 L585.09,-74.58 L588.74,-85.81 L579.19,-92.75 L591,-92.75Z" class="st"/>
<path d="M829.95,-145.81 L833.59,-134.58 L845.4,-134.58 L835.85,-127.64 L839.5,-116.42 L829.95,-123.35 L820.39,-116.42 L824.04,-127.64 L814.49,-134.58 L826.3,-134.58Z" class="st"/>
<path d="M692.08,155.85 L695.73,167.08 L707.53,167.08 L697.98,174.02 L701.63,185.25 L692.08,178.31 L682.53,185.25 L686.18,174.02 L676.62,167.08 L688.43,167.08Z" class="st"/>
<circle cx="719.56" cy="510.68" r="9" class="ci"/>
<path d="M608.4,925.23 L612.05,936.46 L623.86,936.46 L614.31,943.4 L617.95,954.63 L608.4,947.69 L598.85,954.63 L602.5,943.4 L592.95,936.46 L604.75,936.46Z" class="st"/>
<path d="M617.06,897.61 L620.71,908.84 L632.51,908.84 L622.96,915.78 L626.61,927.01 L617.06,920.07 L607.51,927.01 L611.15,915.78 L601.6,908.84 L613.41,908.84Z" class="st"/>
<circle cx="757.82" cy="970.73" r="9" class="ci"/>
<path d="M546.73,946.85 L550.37,958.08 L562.18,958.08 L552.63,965.02 L556.28,976.25 L546.73,969.31 L537.17,976.25 L540.82,965.02 L531.27,958.08 L543.08,958.08Z" class="st"/>
<circle cx="559.39" cy="984.16" r="9" class="ci"/>
<path d="M567.76,977.53 L571.41,988.76 L583.22,988.76 L573.67,995.7 L577.32,1006.93 L567.76,999.99 L558.21,1006.93 L561.86,995.7 L552.31,988.76 L564.12,988.76Z" class="st"/>
<line x1="703.8" y1="737.2" x2="703.8" y2="769.61" stroke="#000" stroke-width="2" />
<path d="M703.8,776.61 L700,769.61 L707.6,769.61Z" fill="#000"/>
<line x1="703.8" y1="737.2" x2="681.09" y2="737.2" stroke="#000" stroke-width="2" />
<path d="M674.09,737.2 L681.09,733.4 L681.09,741Z" fill="#000"/>
<line x1="594.64" y1="-87.73" x2="594.64" y2="40.65" stroke="#000" stroke-width="2" />
<path d="M594.64,47.65 L590.84,40.65 L598.44,40.65Z" fill="#000"/>
<line x1="829.95" y1="-129.56" x2="829.95" y2="3.69" stroke="#000" stroke-width="2" />
<path d="M829.95,10.69 L826.15,3.69 L833.75,3.69Z" fill="#000"/>
<line x1="692.08" y1="172.1" x2="692.08" y2="270.25" stroke="#000" stroke-width="2" />
<path d="M692.08,277.25 L688.28,270.25 L695.88,270.25Z" fill="#000"/>
<line x1="719.56" y1="510.68" x2="719.56" y2="569.44" stroke="#00f" stroke-width="2" />
<path d="M719.56,576.44 L715.76,569.44 L723.36,569.44Z" fill="#00f"/>
<line x1="617.06" y1="913.86" x2="605" y2="913.86" stroke="#000" stroke-width="2" />
<path d="M598,913.86 L605,910.06 L605,917.66Z" fill="#000"/>
</g>
<line x1="670.13" y1="887.8" x2="670.13" y2="883.5" stroke="#2a2a2a" stroke-width="1.5" />
<line x1="670.13" y1="549.1" x2="670.13" y2="553.4" stroke="#2a2a2a" stroke-width="1.5" />
<line x1="651.2" y1="868.98" x2="655.5" y2="868.98" stroke="#2a2a2a" stroke-width="1.5" />
<line x1="992" y1="868.98" x2="987.7" y2="868.98" stroke="#2a2a2a" stroke-width="1.5" />
<line x1="689.07" y1="887.8" x2="689.07" y2="879.8" stroke="#2a2a2a" stroke-width="1.5" />
<line x1="689.07" y1="549.1" x2="689.07" y2="557.1" stroke="#2a2a2a" stroke-width="1.5" />
<line x1="651.2" y1="850.17" x2="659.2" y2="850.17" stroke="#2a2a2a" stroke-width="1.5" />
<line x1="992" y1="850.17" x2="984" y2="850.17" stroke="#2a2a2a" stroke-width="1.5" />
<line x1="708" y1="887.8" x2="708" y2="883.5" stroke="#2a2a2a" stroke-width="1.5" />
<line x1="708" y1="549.1" x2="708" y2="553.4" stroke="#2a2a2a" stroke-width="1.5" />
<line x1="651.2" y1="831.35" x2="655.5" y2="831.35" stroke="#2a2a2a" stroke-width="1.5" />
<line x1="992" y1="831.35" x2="987.7" y2="831.35" stroke="#2a2a2a" stroke-width="1.5" />
<line x1="726.93" y1="887.8" x2="726.93" y2="883.5" stroke="#2a2a2a" stroke-width="1.5" />
<line x1="726.93" y1="549.1" x2="726.93" y2="553.4" stroke="#2a2a2a" stroke-width="1.5" />
<line x1="651.2" y1="812.53" x2="655.5" y2="812.53" stroke="#2a2a2a" stroke-width="1.5" />
<line x1="992" y1="812.53" x2="987.7" y2="812.53" stroke="#2a2a2a" stroke-width="1.5" />
<line x1="745.87" y1="887.8" x2="745.87" y2="883.5" stroke="#2a2a2a" stroke-width="1.5" />
<line x1="745.87" y1="549.1" x2="745.87" y2="553.4" stroke="#2a2a2a" stroke-width="1.5" />
<line x1="651.2" y1="793.72" x2="655.5" y2="793.72" stroke="#2a2a2a" stroke-width="1.5" />
<line x1="992" y1="793.72" x2="987.7" y2="793.72" stroke="#2a2a2a" stroke-width="1.5" />
<line x1="764.8" y1="887.8" x2="764.8" y2="879.8" stroke="#2a2a2a" stroke-width="1.5" />
<line x1="764.8" y1="549.1" x2="764.8" y2="557.1" stroke="#2a2a2a" stroke-width="1.5" />
<line x1="651.2" y1="774.9" x2="659.2" y2="774.9" stroke="#2a2a2a" stroke-width="1.5" />
<line x1="992" y1="774.9" x2="984" y2="774.9" stroke="#2a2a2a" stroke-width="1.5" />
<line x1="783.73" y1="887.8" x2="783.73" y2="883.5" stroke="#2a2a2a" stroke-width="1.5" />
<line x1="783.73" y1="549.1" x2="783.73" y2="553.4" stroke="#2a2a2a" stroke-width="1.5" />
<line x1="651.2" y1="756.08" x2="655.5" y2="756.08" stroke="#2a2a2a" stroke-width="1.5" />
<line x1="992" y1="756.08" x2="987.7" y2="756.08" stroke="#2a2a2a" stroke-width="1.5" />
<line x1="802.67" y1="887.8" x2="802.67" y2="883.5" stroke="#2a2a2a" stroke-width="1.5" />
<line x1="802.67" y1="549.1" x2="802.67" y2="553.4" stroke="#2a2a2a" stroke-width="1.5" />
<line x1="651.2" y1="737.27" x2="655.5" y2="737.27" stroke="#2a2a2a" stroke-width="1.5" />
<line x1="992" y1="737.27" x2="987.7" y2="737.27" stroke="#2a2a2a" stroke-width="1.5" />
<line x1="821.6" y1="887.8" x2="821.6" y2="883.5" stroke="#2a2a2a" stroke-width="1.5" />
<line x1="821.6" y1="549.1" x2="821.6" y2="553.4" stroke="#2a2a2a" stroke-width="1.5" />
<line x1="651.2" y1="718.45" x2="655.5" y2="718.45" stroke="#2a2a2a" stroke-width="1.5" />
<line x1="992" y1="718.45" x2="987.7" y2="718.45" stroke="#2a2a2a" stroke-width="1.5" />
<line x1="840.53" y1="887.8" x2="840.53" y2="879.8" stroke="#2a2a2a" stroke-width="1.5" />
<line x1="840.53" y1="549.1" x2="840.53" y2="557.1" stroke="#2a2a2a" stroke-width="1.5" />
<line x1="651.2" y1="699.63" x2="659.2" y2="699.63" stroke="#2a2a2a" stroke-width="1.5" />
<line x1="992" y1="699.63" x2="984" y2="699.63" stroke="#2a2a2a" stroke-width="1.5" />
<line x1="859.47" y1="887.8" x2="859.47" y2="883.5" stroke="#2a2a2a" stroke-width="1.5" />
<line x1="859.47" y1="549.1" x2="859.47" y2="553.4" stroke="#2a2a2a" stroke-width="1.5" />
<line x1="651.2" y1="680.82" x2="655.5" y2="680.82" stroke="#2a2a2a" stroke-width="1.5" />
<line x1="992" y1="680.82" x2="987.7" y2="680.82" stroke="#2a2a2a" stroke-width="1.5" />
<line x1="878.4" y1="887.8" x2="878.4" y2="883.5" stroke="#2a2a2a" stroke-width="1.5" />
<line x1="878.4" y1="549.1" x2="878.4" y2="553.4" stroke="#2a2a2a" stroke-width="1.5" />
<line x1="651.2" y1="662" x2="655.5" y2="662" stroke="#2a2a2a" stroke-width="1.5" />
<line x1="992" y1="662" x2="987.7" y2="662" stroke="#2a2a2a" stroke-width="1.5" />
<line x1="897.33" y1="887.8" x2="897.33" y2="883.5" stroke="#2a2a2a" stroke-width="1.5" />
<line x1="897.33" y1="549.1" x2="897.33" y2="553.4" stroke="#2a2a2a" stroke-width="1.5" />
<line x1="651.2" y1="643.18" x2="655.5" y2="643.18" stroke="#2a2a2a" stroke-width="1.5" />
<line x1="992" y1="643.18" x2="987.7" y2="643.18" stroke="#2a2a2a" stroke-width="1.5" />
<line x1="916.27" y1="887.8" x2="916.27" y2="879.8" stroke="#2a2a2a" stroke-width="1.5" />
<line x1="916.27" y1="549.1" x2="916.27" y2="557.1" stroke="#2a2a2a" stroke-width="1.5" />
<line x1="651.2" y1="624.37" x2="659.2" y2="624.37" stroke="#2a2a2a" stroke-width="1.5" />
<line x1="992" y1="624.37" x2="984" y2="624.37" stroke="#2a2a2a" stroke-width="1.5" />
<line x1="935.2" y1="887.8" x2="935.2" y2="883.5" stroke="#2a2a2a" stroke-width="1.5" />
<line x1="935.2" y1="549.1" x2="935.2" y2="553.4" stroke="#2a2a2a" stroke-width="1.5" />
<line x1="651.2" y1="605.55" x2="655.5" y2="605.55" stroke="#2a2a2a" stroke-width="1.5" />
<line x1="992" y1="605.55" x2="987.7" y2="605.55" stroke="#2a2a2a" stroke-width="1.5" />
<line x1="954.13" y1="887.8" x2="954.13" y2="883.5" stroke="#2a2a2a" stroke-width="1.5" />
<line x1="954.13" y1="549.1" x2="954.13" y2="553.4" stroke="#2a2a2a" stroke-width="1.5" />
<line x1="651.2" y1="586.73" x2="655.5" y2="586.73" stroke="#2a2a2a" stroke-width="1.5" />
<line x1="992" y1="586.73" x2="987.7" y2="586.73" stroke="#2a2a2a" stroke-width="1.5" />
<line x1="973.07" y1="887.8" x2="973.07" y2="883.5" stroke="#2a2a2a" stroke-width="1.5" />
<line x1="973.07" y1="549.1" x2="973.07" y2="553.4" stroke="#2a2a2a" stroke-width="1.5" />
<line x1="651.2" y1="567.92" x2="655.5" y2="567.92" stroke="#2a2a2a" stroke-width="1.5" />
<line x1="992" y1="567.92" x2="987.7" y2="567.92" stroke="#2a2a2a" stroke-width="1.5" />
<rect x="651.2" y="549.1" width="340.8" height="338.7" fill="none" stroke="#1a1a1a" stroke-width="1.2"/>
<text x="642.2" y="857.17" font-size="18" text-anchor="end" class="tl ts" letter-spacing="0.4">6</text>
<text x="689.27" y="908.6" font-size="18" text-anchor="middle" class="tl ts" letter-spacing="0.4">6</text>
<text x="642.2" y="781.9" font-size="18" text-anchor="end" class="tl ts" letter-spacing="0.4">8</text>
<text x="765" y="908.6" font-size="18" text-anchor="middle" class="tl ts" letter-spacing="0.4">8</text>
<text x="642.2" y="706.63" font-size="18" text-anchor="end" class="tl ts" letter-spacing="0.4">10</text>
<text x="840.73" y="908.6" font-size="18" text-anchor="middle" class="tl ts" letter-spacing="0.4">10</text>
<text x="642.2" y="631.37" font-size="18" text-anchor="end" class="tl ts" letter-spacing="0.4">12</text>
<text x="916.47" y="908.6" font-size="18" text-anchor="middle" class="tl ts" letter-spacing="0.4">12</text>
<text x="642.2" y="556.1" font-size="18" text-anchor="end" class="tl ts" letter-spacing="0.4">14</text>
<text x="992.2" y="908.6" font-size="18" text-anchor="middle" class="tl ts" letter-spacing="0.4">14</text>
<text x="91.6" y="823.95" font-size="28" text-anchor="end" class="tl" letter-spacing="1">2</text>
<text x="201.75" y="944" font-size="28" text-anchor="middle" class="tl" letter-spacing="1">2</text>
<text x="91.6" y="689.05" font-size="28" text-anchor="end" class="tl" letter-spacing="1">5</text>
<text x="337.45" y="944" font-size="28" text-anchor="middle" class="tl" letter-spacing="1">5</text>
<text x="91.6" y="587" font-size="28" text-anchor="end" class="tl" letter-spacing="1">10</text>
<text x="440.1" y="944" font-size="28" text-anchor="middle" class="tl" letter-spacing="1">10</text>
<text x="91.6" y="484.95" font-size="28" text-anchor="end" class="tl" letter-spacing="1">20</text>
<text x="542.75" y="944" font-size="28" text-anchor="middle" class="tl" letter-spacing="1">20</text>
<text x="91.6" y="350.05" font-size="28" text-anchor="end" class="tl" letter-spacing="1">50</text>
<text x="678.45" y="944" font-size="28" text-anchor="middle" class="tl" letter-spacing="1">50</text>
<text x="91.6" y="248" font-size="28" text-anchor="end" class="tl" letter-spacing="1">100</text>
<text x="781.1" y="944" font-size="28" text-anchor="middle" class="tl" letter-spacing="1">100</text>
<text x="91.6" y="145.95" font-size="28" text-anchor="end" class="tl" letter-spacing="1">200</text>
<text x="883.75" y="944" font-size="28" text-anchor="middle" class="tl" letter-spacing="1">200</text>
<text x="399.6" y="980.1" font-size="28" class="tl" textLength="158.6" lengthAdjust="spacingAndGlyphs">Literature</text>
<text x="566.8" y="980.1" font-size="28" class="tl" textLength="73.6" lengthAdjust="spacingAndGlyphs">Mass</text>
<text x="649.6" y="981.3" font-size="34" class="tl" textLength="10.2" lengthAdjust="spacingAndGlyphs">[</text>
<text x="661.6" y="980.1" font-size="28" class="tl" textLength="24" lengthAdjust="spacingAndGlyphs">M</text>
<text x="704.2" y="981.3" font-size="34" class="tl" textLength="13.8" lengthAdjust="spacingAndGlyphs">]</text>
<text x="684.7" y="984.3" font-size="20.3" class="op">⊕</text>
<g transform="translate(25.0,0) rotate(-90)">
<text x="-570.1" y="0" font-size="28" class="tl" textLength="60.1" lengthAdjust="spacingAndGlyphs">This</text>
<text x="-498.2" y="0" font-size="28" class="tl" textLength="74.3" lengthAdjust="spacingAndGlyphs">Work</text>
<text x="-411.3" y="1.6" font-size="34" class="tl" textLength="10.4" lengthAdjust="spacingAndGlyphs">[</text>
<text x="-399.6" y="0" font-size="28" class="tl" textLength="21.3" lengthAdjust="spacingAndGlyphs">M</text>
<text x="-356.5" y="1.6" font-size="34" class="tl" textLength="10.8" lengthAdjust="spacingAndGlyphs">]</text>
<text x="-377.5" y="5.1" font-size="20.3" class="op">⊕</text>
</g>
</svg></body></html>
